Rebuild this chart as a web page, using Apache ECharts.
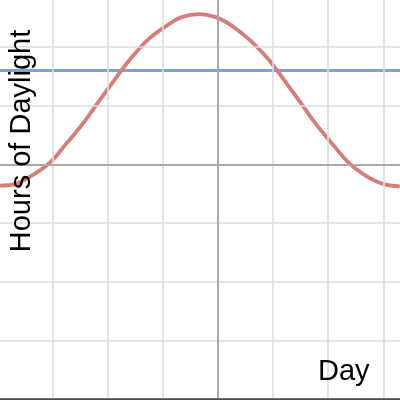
<!DOCTYPE html>
<html>
<head>
<meta charset="utf-8">
<script src="https://cdn.jsdelivr.net/npm/echarts@6/dist/echarts.min.js"></script>
<style>
html,body{margin:0;padding:0;background:#fff;}
#chart{width:400px;height:400px;}
</style>
</head>
<body>
<div id="chart"></div>
<script>
// Day of year (x) and hours of daylight (y)
var days  = [2, 17, 31, 47, 62, 77, 92, 102, 113, 122, 137, 153, 167, 183, 198, 213, 228, 244, 253, 263, 274, 289, 304, 319, 334, 349, 365];
var hours = [9.09, 9.18, 9.52, 10.05, 10.86, 11.71, 12.69, 13.33, 14.04, 14.57, 15.33, 15.89, 16.27, 16.40, 16.27, 15.89, 15.33, 14.57, 14.04, 13.40, 12.69, 11.71, 10.86, 10.05, 9.52, 9.18, 9.06];
var thresholdHours = 14;
var xRange = [2.2, 365.2];
var yRange = [-0.04, 17];
var minorX = [50, 100, 150, 250, 300, 350];
var majorX = [200];
var minorY = [2.5, 5, 7.5, 12.5, 15];
var majorY = [10];
var axisY = [0];

var curve = days.map(function (d, i) { return [d, hours[i]]; });
var threshold = [[xRange[0], thresholdHours], [xRange[1], thresholdHours]];

function vLines(vals, color, width) {
  return vals.map(function (v) { return { xAxis: v, lineStyle: { color: color, width: width, type: 'solid' } }; });
}
function hLines(vals, color, width) {
  return vals.map(function (v) { return { yAxis: v, lineStyle: { color: color, width: width, type: 'solid' } }; });
}

var chart = echarts.init(document.getElementById('chart'), null, { renderer: 'canvas' });
chart.setOption({
  animation: false,
  backgroundColor: '#ffffff',
  grid: { left: 0, right: 0, top: 0, bottom: 0 },
  xAxis: {
    type: 'value', min: xRange[0], max: xRange[1],
    axisLine: { show: false }, axisTick: { show: false }, axisLabel: { show: false }, splitLine: { show: false }
  },
  yAxis: {
    type: 'value', min: yRange[0], max: yRange[1],
    axisLine: { show: false }, axisTick: { show: false }, axisLabel: { show: false }, splitLine: { show: false }
  },
  series: [
    {
      name: 'grid', type: 'line', data: [], z: 1, silent: true,
      markLine: {
        silent: true, symbol: ['none', 'none'], label: { show: false }, animation: false,
        emphasis: { disabled: true },
        data: [].concat(
          vLines(minorX, '#dddddd', 1.6),
          hLines(minorY, '#dddddd', 1.6),
          vLines(majorX, '#a9a9a9', 2),
          hLines(majorY, '#a9a9a9', 2),
          hLines(axisY, '#4a4a4a', 2.6)
        )
      }
    },
    {
      name: 'Threshold', type: 'line', data: threshold, z: 3,
      symbol: 'none', lineStyle: { color: '#7aa3d6', width: 3 }
    },
    {
      name: 'Hours of Daylight', type: 'line', data: curve, z: 4,
      symbol: 'none', smooth: 0.4, lineStyle: { color: '#d67c7a', width: 3.8 }
    }
  ],
  graphic: [
    {
      type: 'text', x: 22, y: 141, rotation: Math.PI / 2, z: 10,
      style: { text: 'Hours of Daylight', font: '29px "Liberation Sans", Arial, sans-serif', fill: '#000', textAlign: 'center', textVerticalAlign: 'middle' }
    },
    {
      type: 'text', x: 318, y: 372, z: 10,
      style: { text: 'Day', font: '29px "Liberation Sans", Arial, sans-serif', fill: '#000', textAlign: 'left', textVerticalAlign: 'middle' }
    }
  ]
});
</script>
</body>
</html>
